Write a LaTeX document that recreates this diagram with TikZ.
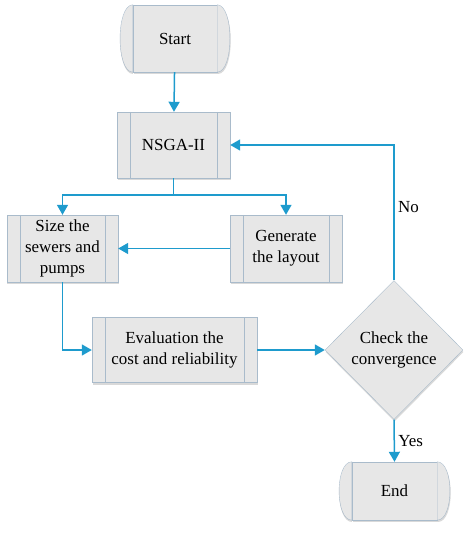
\documentclass[tikz,border=0pt]{standalone}
\usepackage{fontspec}
\setmainfont{Liberation Serif}
\usetikzlibrary{arrows.meta,shapes.geometric,shadows}

\definecolor{flowblue}{HTML}{1E9BCD}
\definecolor{boxline}{HTML}{A9BBCB}
\definecolor{boxfill}{HTML}{E7E7E7}

\tikzset{
    boxshadow/.style={drop shadow={shadow xshift=0.5bp, shadow yshift=-2bp, fill=black, opacity=0.15}},
    process/.style={draw=boxline, fill=boxfill, boxshadow, align=center, inner sep=2bp,
        path picture={\draw[boxline]
            ([xshift=13bp]path picture bounding box.north west) -- ([xshift=13bp]path picture bounding box.south west)
            ([xshift=-13bp]path picture bounding box.north east) -- ([xshift=-13bp]path picture bounding box.south east);}},
    terminal/.style={draw=boxline, fill=boxfill, boxshadow, align=center},
    termcap/.style={draw=boxline, fill=boxfill, boxshadow},
    decision/.style={diamond, draw=boxline, fill=boxfill, boxshadow, align=center, inner sep=0pt,
        minimum width=138bp, minimum height=139bp},
    flow/.style={draw=flowblue, line width=1.5bp, -{Triangle[width=11bp,length=10bp]}},
    line/.style={draw=flowblue, line width=1.5bp}
}

\begin{document}
\begin{tikzpicture}[x=1bp, y=-1bp, font=\fontsize{17}{21}\selectfont]
    \useasboundingbox (0,0) rectangle (474,544);

    % terminals
    \node[terminal, minimum width=84bp, minimum height=67bp] (start) at (175,38.5) {Start};
    \draw[termcap] (start.north west) .. controls +(-17,0) and +(-17,0) .. (start.south west) -- cycle;
    \draw[termcap] (start.north east) .. controls +(17,0) and +(17,0) .. (start.south east) -- cycle;
    \node[terminal, minimum width=85bp, minimum height=58bp] (finish) at (394.5,491) {End};
    \draw[termcap] (finish.north west) .. controls +(-17,0) and +(-17,0) .. (finish.south west) -- cycle;
    \draw[termcap] (finish.north east) .. controls +(17,0) and +(17,0) .. (finish.south east) -- cycle;

    % processes
    \node[process, minimum width=113bp, minimum height=66bp] (nsga) at (173.5,145) {NSGA-II};
    \node[process, minimum width=111bp, minimum height=67bp] (size) at (62.5,248.5) {Size the\\sewers and\\pumps};
    \node[process, minimum width=112bp, minimum height=67bp] (layout) at (286,248.5) {Generate\\the layout};
    \node[process, minimum width=165bp, minimum height=65bp] (eval) at (174.5,350) {Evaluation the\\cost and reliability};
    \node[decision] (check) at (394,350) {Check the\\convergence};

    % connectors
    \coordinate (fork) at ([yshift=-17bp]nsga.south);
    \draw[flow] (start) -- (nsga);
    \draw[line] (nsga.south) -- (fork);
    \draw[flow] (fork) -| (size.north);
    \draw[flow] (fork) -| (layout.north);
    \draw[flow] (layout) -- (size);
    \draw[flow] (size.south) |- (eval.west);
    \draw[flow] (eval) -- (check);
    \draw[flow] (check.north) |- node[right, pos=0.27] {No} (nsga.east);
    \draw[flow] (check.south) -- node[right] {Yes} (finish.north);
\end{tikzpicture}
\end{document}
